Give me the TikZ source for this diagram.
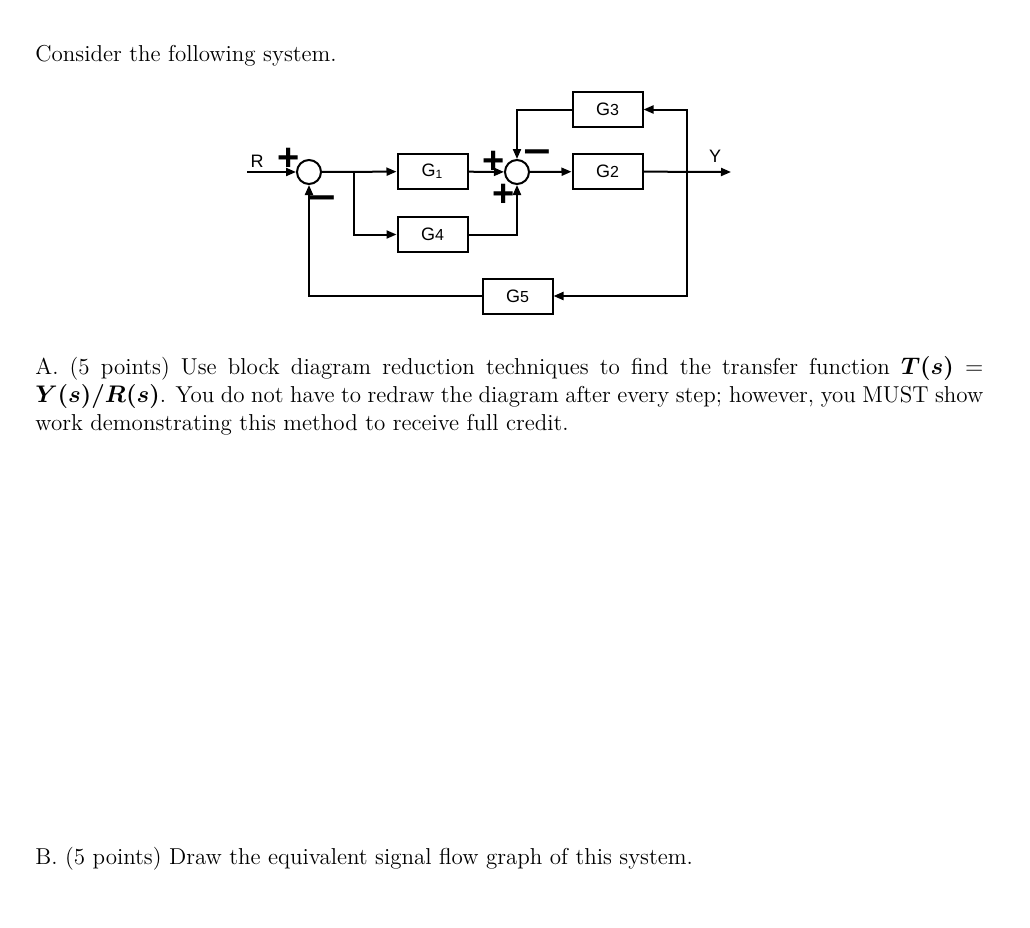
\documentclass[tikz,border=0pt]{standalone}
\usepackage{fontspec}
\newfontfamily\labfont{Liberation Sans}
\usetikzlibrary{arrows.meta}
\begin{document}
\begin{tikzpicture}[x=0.5pt,y=-0.5pt,
  blk/.style={draw, line width=1pt, minimum width=35pt, minimum height=17.5pt, inner sep=0pt, font=\labfont\fontsize{9}{10}\selectfont},
  sumj/.style={draw, circle, line width=1pt, minimum size=12pt, inner sep=0pt},
  wire/.style={line width=1pt},
  sig/.style={wire, -{Triangle[length=5pt,width=4pt]}},
  para/.style={anchor=base west, inner sep=0pt, font=\fontsize{11.5}{14}\selectfont},
  lbl/.style={font=\labfont\fontsize{9}{10}\selectfont, inner sep=0pt},
  plus/.style={inner sep=0pt, font=\labfont\bfseries\fontsize{19}{19}\selectfont},
  minus/.style={inner sep=0pt, font=\labfont\bfseries\fontsize{19}{19}\selectfont}
]
\useasboundingbox (0,0) rectangle (1030,928);

% text
\node[para] (t0) at (35,61) {Consider the following system.};
\node[para] (ta1) at (35,374) {\makebox[474pt][s]{A. (5 points) Use block diagram reduction techniques to find the transfer function {\boldmath$T(s)$} $=$}};
\node[para] (ta2) at (35,402) {\makebox[474pt][s]{{\boldmath$Y(s)/R(s)$}. You do not have to redraw the diagram after every step; however, you MUST show}};
\node[para] (ta3) at (35,430) {work demonstrating this method to receive full credit.};
\node[para] (tb) at (35,864) {B. (5 points) Draw the equivalent signal flow graph of this system.};

% blocks
\node[sumj] (s1) at (309,172) {};
\node[sumj] (s2) at (517,172) {};
\node[blk] (g1) at (432.5,171.5) {G\textsubscript{1}};
\node[blk] (g4) at (432.5,234.5) {G{\fontsize{8}{9}\selectfont 4}};
\node[blk] (g2) at (607.5,171.5) {G{\fontsize{8}{9}\selectfont 2}};
\node[blk] (g3) at (607.5,109.5) {G{\fontsize{8}{9}\selectfont 3}};
\node[blk] (g5) at (517.5,296) {G{\fontsize{8}{9}\selectfont 5}};

\coordinate (rin) at (247,172);
\coordinate (yout) at (731,172);
\coordinate (b1) at (354,172);
\coordinate (b2) at (687,172);

\node[lbl] (lr) at (257,161) {R};
\node[lbl] (ly) at (715,156) {Y};

% signs
\node[plus] (p1) at (288.3,159.5) {+};
\node[minus] (m1) at (322.7,203) {\scalebox{1.25}[1]{−}};
\node[plus] (p2) at (493.3,162) {+};
\node[minus] (m2) at (537,157) {\scalebox{1.25}[1]{−}};
\node[plus] (p3) at (503.3,195.5) {+};

% connectors
\draw[sig] (rin) -- (s1);
\draw[sig] (s1) -- (g1);
\draw[sig] (b1) |- (g4);
\draw[sig] (g1) -- (s2);
\draw[sig] (g4) -| (s2);
\draw[sig] (s2) -- (g2);
\draw[sig] (g2) -- (yout);
\draw[sig] (b2) |- (g3);
\draw[sig] (b2) |- (g5);
\draw[sig] (g3) -| (s2);
\draw[sig] (g5) -| (s1);
\end{tikzpicture}
\end{document}
